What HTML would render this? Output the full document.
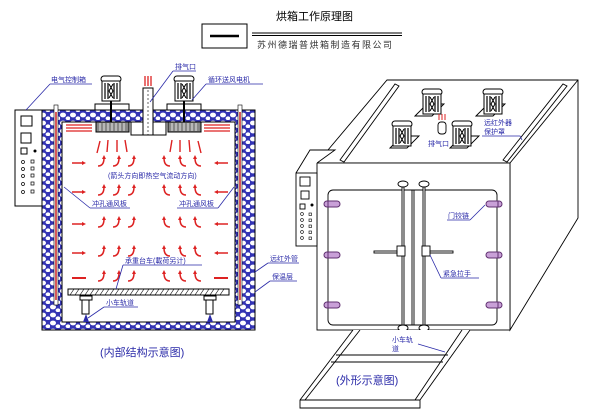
<!DOCTYPE html>
<html><head><meta charset="utf-8"><style>
html,body{margin:0;padding:0;background:#fff}
svg{display:block}
text{font-family:"Liberation Sans","Noto Sans CJK SC",sans-serif}
.lb{fill:#2a2aa8;font-size:7px}
.ll{stroke:#2a2aa8;stroke-width:0.8;fill:none}
</style></head><body>
<svg width="600" height="416" viewBox="0 0 600 416" xmlns="http://www.w3.org/2000/svg">
<defs>
<pattern id="ins" width="10" height="8" patternUnits="userSpaceOnUse">
<rect width="10" height="8" fill="#3434b4"/>
<ellipse cx="3" cy="3" rx="3" ry="2.4" fill="#fff"/>
<ellipse cx="8" cy="6.3" rx="2.4" ry="1.9" fill="#fff"/>
</pattern>
<g id="motor">
<rect x="-10" y="0" width="20" height="6" rx="3" fill="#fff" stroke="#000"/>
<rect x="-9" y="5" width="18" height="20" fill="#fff" stroke="#000"/>
<g stroke="#000" stroke-width="1.2"><line x1="-6" y1="7" x2="-6" y2="23"/><line x1="-3" y1="7" x2="-3" y2="23"/><line x1="3" y1="7" x2="3" y2="23"/><line x1="6" y1="7" x2="6" y2="23"/></g>
<path d="M-2 8 L2 15 L-2 22 M2 8 L-2 15 L2 22" stroke="#000" fill="none"/>
</g>
<g id="hr"><path d="M0 0 h10" stroke="#d22" stroke-width="1.5"/><path d="M10 -2 l4 2 l-4 2z" fill="#d22"/></g>
<g id="hk"><path d="M0 3 q6 0 6 -8" stroke="#d22" stroke-width="1.5" fill="none"/><path d="M4 -4 l2 -4 l2 4z" fill="#d22"/></g>
<g id="hinge"><rect x="-8" y="-3" width="16" height="6" rx="3" fill="#c9a0d8" stroke="#603070"/><line x1="-4" y1="-3" x2="-4" y2="3" stroke="#603070"/></g>
</defs>

<rect x="202" y="24" width="45" height="24" fill="#fff" stroke="#000"/>
<line x1="210" y1="36" x2="239" y2="36" stroke="#000" stroke-width="2.5"/>
<text x="276" y="20" font-size="11">烘箱工作原理图</text>
<line x1="252" y1="33" x2="402" y2="33" stroke="#000"/>
<line x1="252" y1="35.5" x2="402" y2="35.5" stroke="#000"/>
<text x="257" y="48" font-size="9" fill="#333" letter-spacing="1.5">苏州德瑞普烘箱制造有限公司</text>

<rect x="42" y="110" width="213" height="220" fill="url(#ins)" stroke="#000"/>
<rect x="62" y="122" width="173" height="200" fill="#fff" stroke="#000"/>
<rect x="15" y="110" width="27" height="96" fill="#fff" stroke="#000"/>
<rect x="21" y="116" width="11" height="10" fill="#fff" stroke="#000"/>
<rect x="21" y="133" width="10" height="10" fill="#fff" stroke="#000"/>
<rect x="21" y="148" width="6" height="6" fill="#fff" stroke="#000"/><circle cx="35" cy="151" r="1.5"/>
<g fill="#fff" stroke="#000" stroke-width="0.7">
<circle cx="23" cy="162" r="1.5"/><rect x="31" y="160" width="3" height="3"/>
<circle cx="23" cy="169" r="1.5"/><rect x="31" y="167" width="3" height="3"/>
<circle cx="23" cy="176" r="1.5"/><rect x="31" y="174" width="3" height="3"/>
<circle cx="23" cy="184" r="1.5"/><rect x="31" y="182" width="3" height="3"/>
<circle cx="23" cy="192" r="1.5"/><rect x="31" y="190" width="3" height="3"/>
</g>
<rect x="54" y="105" width="4" height="200" fill="#fff" stroke="#000" stroke-width="0.6"/>
<line x1="56" y1="112" x2="56" y2="300" stroke="#c22" stroke-width="1.5"/>
<rect x="238" y="105" width="4" height="200" fill="#fff" stroke="#000" stroke-width="0.6"/>
<line x1="240" y1="112" x2="240" y2="300" stroke="#c22" stroke-width="1.5"/>
<rect x="95" y="104" width="34" height="6" fill="#fff" stroke="#000"/>
<rect x="167" y="104" width="34" height="6" fill="#fff" stroke="#000"/>
<use href="#motor" x="111" y="76"/><use href="#motor" x="184" y="76"/>
<line x1="111" y1="101" x2="111" y2="122" stroke="#000" stroke-width="2"/>
<line x1="184" y1="101" x2="184" y2="122" stroke="#000" stroke-width="2"/>
<rect x="96" y="122" width="33" height="10" fill="#888" stroke="#000"/>
<rect x="168" y="122" width="33" height="10" fill="#888" stroke="#000"/>
<g stroke="#fff" stroke-width="0.8"><path d="M100 123v8M104 123v8M108 123v8M112 123v8M116 123v8M120 123v8M124 123v8M172 123v8M176 123v8M180 123v8M184 123v8M188 123v8M192 123v8M196 123v8"/></g>
<rect x="131" y="122" width="35" height="13" fill="#fff" stroke="#000"/>
<rect x="143" y="88" width="10" height="47" fill="#fff" stroke="#000"/>
<line x1="148" y1="90" x2="148" y2="135" stroke="#000" stroke-dasharray="2 2" stroke-width="0.6"/>
<g stroke="#d22" stroke-width="1.3"><path d="M145 86v-10M148 86v-10M151 86v-10"/></g>
<g stroke="#d22" stroke-width="1.2"><path d="M66 125h26M66 128h26M66 131h26M204 125h26M204 128h26M204 131h26"/></g>
<g stroke="#d22" stroke-width="1.4"><path d="M97 153l3 -12M107 152l1 -12M117 152l0 -12M127 152l-2 -12M170 152l2 -12M180 152l0 -12M190 152l-1 -12M201 153l-3 -12"/></g>
<g>
<use href="#hr" x="72" y="163"/><use href="#hk" x="98" y="163"/><use href="#hk" x="113" y="163"/><use href="#hk" x="128" y="163"/>
<use href="#hk" transform="translate(170 163) scale(-1 1)"/><use href="#hk" transform="translate(186 163) scale(-1 1)"/><use href="#hk" transform="translate(201 163) scale(-1 1)"/><use href="#hr" transform="translate(228 163) scale(-1 1)"/>
<use href="#hr" x="72" y="192"/><use href="#hk" x="98" y="192"/><use href="#hk" x="113" y="192"/><use href="#hk" x="128" y="192"/>
<use href="#hk" transform="translate(170 192) scale(-1 1)"/><use href="#hk" transform="translate(186 192) scale(-1 1)"/><use href="#hk" transform="translate(201 192) scale(-1 1)"/><use href="#hr" transform="translate(228 192) scale(-1 1)"/>
<use href="#hr" x="72" y="224"/><use href="#hk" x="98" y="224"/><use href="#hk" x="113" y="224"/><use href="#hk" x="128" y="224"/>
<use href="#hk" transform="translate(170 224) scale(-1 1)"/><use href="#hk" transform="translate(186 224) scale(-1 1)"/><use href="#hk" transform="translate(201 224) scale(-1 1)"/><use href="#hr" transform="translate(228 224) scale(-1 1)"/>
<use href="#hr" x="72" y="253"/><use href="#hk" x="98" y="253"/><use href="#hk" x="113" y="253"/><use href="#hk" x="128" y="253"/>
<use href="#hk" transform="translate(170 253) scale(-1 1)"/><use href="#hk" transform="translate(186 253) scale(-1 1)"/><use href="#hk" transform="translate(201 253) scale(-1 1)"/><use href="#hr" transform="translate(228 253) scale(-1 1)"/>
<path d="M72 278h14M214 278h14" stroke="#d22" stroke-width="2"/>
<use href="#hk" x="98" y="278"/><use href="#hk" x="113" y="278"/><use href="#hk" x="128" y="278"/>
<use href="#hk" transform="translate(170 278) scale(-1 1)"/><use href="#hk" transform="translate(186 278) scale(-1 1)"/><use href="#hk" transform="translate(201 278) scale(-1 1)"/>
</g>
<rect x="68" y="289" width="161" height="6" fill="#fff" stroke="#000"/>
<g stroke="#000" stroke-width="0.6"><path d="M70 295l4-6M75 295l4-6M80 295l4-6M85 295l4-6M90 295l4-6M95 295l4-6M100 295l4-6M105 295l4-6M110 295l4-6M115 295l4-6M120 295l4-6M125 295l4-6M130 295l4-6M135 295l4-6M140 295l4-6M145 295l4-6M150 295l4-6M155 295l4-6M160 295l4-6M165 295l4-6M170 295l4-6M175 295l4-6M180 295l4-6M185 295l4-6M190 295l4-6M195 295l4-6M200 295l4-6M205 295l4-6M210 295l4-6M215 295l4-6M220 295l4-6"/></g>
<g fill="#fff" stroke="#000"><rect x="80" y="296" width="12" height="4"/><rect x="82" y="300" width="7" height="14"/><rect x="204" y="296" width="12" height="4"/><rect x="206" y="300" width="7" height="14"/></g>
<path d="M83 322l3-8l3 8z M207 322l3-8l3 8z" fill="#2a2aa8"/>
<text class="lb" x="51" y="82">电气控制箱</text><path class="ll" d="M50 84h42 M50 84 L26 110"/>
<text class="lb" x="175" y="69">排气口</text><path class="ll" d="M173 71h23 M173 71 L150 102"/>
<text class="lb" x="208" y="82">循环送风电机</text><path class="ll" d="M206 84h57 M206 84 L192 100"/>
<text class="lb" x="108" y="178">(箭头方向即热空气流动方向)</text>
<text class="lb" x="92" y="206">冲孔通风板</text><path class="ll" d="M90 208h40 M90 208 L64 187"/>
<text class="lb" x="179" y="206">冲孔通风板</text><path class="ll" d="M177 208h41 M218 208 L234 187"/>
<text class="lb" x="125" y="263">承重台车(載荷另计)</text><path class="ll" d="M123 265h79 M123 265 L116 289"/>
<text class="lb" x="106" y="305">小车轨道</text><path class="ll" d="M104 307h34 M104 307 L88 318"/>
<text class="lb" x="270" y="261">远红外管</text><path class="ll" d="M268 263h31 M268 263 L255 272"/>
<text class="lb" x="272" y="279">保温层</text><path class="ll" d="M270 281h27 M270 281 L255 292"/>
<text x="100" y="356" font-size="11" fill="#2a2aa8">(内部结构示意图)</text>

<g fill="#fff" stroke="#000" stroke-width="0.9">
<path d="M317 163 L387 80 L578 80 L578 218 L510 330 L510 163 Z"/>
<line x1="510" y1="163" x2="578" y2="80"/>
<rect x="317" y="163" width="193" height="167"/>
<path d="M340 160 L395 84 L399 86 L344 162 Z"/>
<path d="M503 160 L563 84 L567 86 L507 162 Z"/>
<path d="M296 173 L310 150 L335 150 L317 163"/>
<rect x="296" y="173" width="21" height="73"/>
<rect x="300" y="177" width="10" height="9"/><rect x="301" y="191" width="8" height="8"/>
<rect x="300" y="204" width="5" height="5"/>
<rect x="328" y="190" width="169" height="135" rx="5"/>
<line x1="412" y1="190" x2="412" y2="325"/><line x1="414" y1="190" x2="414" y2="325"/>
<rect x="402" y="185" width="2" height="142"/><rect x="423" y="185" width="2" height="142"/>
<ellipse cx="403" cy="184" rx="5" ry="3"/><ellipse cx="424" cy="184" rx="5" ry="3"/>
<ellipse cx="403" cy="328" rx="5" ry="3"/><ellipse cx="424" cy="328" rx="5" ry="3"/>
<rect x="397" y="246" width="8" height="10"/><rect x="422" y="246" width="8" height="10"/>
<rect x="374" y="251" width="23" height="2"/><rect x="430" y="251" width="23" height="2"/>
<path d="M415 116 L427 104 L444 104 L432 116Z"/><path d="M476 116 L488 104 L505 104 L493 116Z"/>
<path d="M390 148 L402 136 L419 136 L407 148Z"/><path d="M450 148 L462 136 L479 136 L467 148Z"/>
<rect x="438" y="122" width="8" height="12" rx="3"/>
<path d="M353 330 L300 400 L300 408 L420 408 L420 400 L470 330"/>
<line x1="300" y1="400" x2="420" y2="400"/>
<line x1="360" y1="330" x2="305" y2="400"/><line x1="462" y1="330" x2="415" y2="400"/>
<line x1="336" y1="355" x2="448" y2="355"/><line x1="331" y1="362" x2="443" y2="362"/>
</g>
<use href="#motor" x="432" y="89"/><use href="#motor" x="493" y="89"/>
<use href="#motor" x="402" y="121"/><use href="#motor" x="462" y="121"/>
<path d="M439 120v-6M442 120v-6M445 120v-6" stroke="#d22"/>
<g fill="#fff" stroke="#000" stroke-width="0.6">
<circle cx="302" cy="214" r="1.4"/><rect x="309" y="213" width="2.5" height="2.5"/>
<circle cx="302" cy="220" r="1.4"/><rect x="309" y="219" width="2.5" height="2.5"/>
<circle cx="302" cy="226" r="1.4"/><rect x="309" y="225" width="2.5" height="2.5"/>
<circle cx="302" cy="232" r="1.4"/><rect x="309" y="231" width="2.5" height="2.5"/>
<circle cx="302" cy="238" r="1.4"/><rect x="309" y="237" width="2.5" height="2.5"/>
</g>
<circle cx="312" cy="205" r="1.5"/>
<use href="#hinge" x="332" y="204"/><use href="#hinge" x="332" y="255"/><use href="#hinge" x="332" y="305"/>
<use href="#hinge" transform="translate(494 204) scale(-1 1)"/><use href="#hinge" transform="translate(494 255) scale(-1 1)"/><use href="#hinge" transform="translate(494 305) scale(-1 1)"/>
<text class="lb" x="428" y="146">排气口</text>
<text class="lb" x="484" y="125">远红外器</text><text class="lb" x="484" y="134">保护罩</text><path class="ll" d="M482 136h38 L522 140"/>
<text class="lb" x="448" y="218">门铰链</text><path class="ll" d="M447 220h23 M470 220 L485 205"/>
<text class="lb" x="443" y="276">紧急拉手</text><path class="ll" d="M441 278h38 M441 278 L430 255"/>
<text class="lb" x="392" y="342">小车轨</text><text class="lb" x="392" y="351">道</text><path class="ll" d="M418 344 L445 352"/>
<text x="336" y="384" font-size="11" fill="#2a2aa8">(外形示意图)</text>
</svg>
</body></html>
